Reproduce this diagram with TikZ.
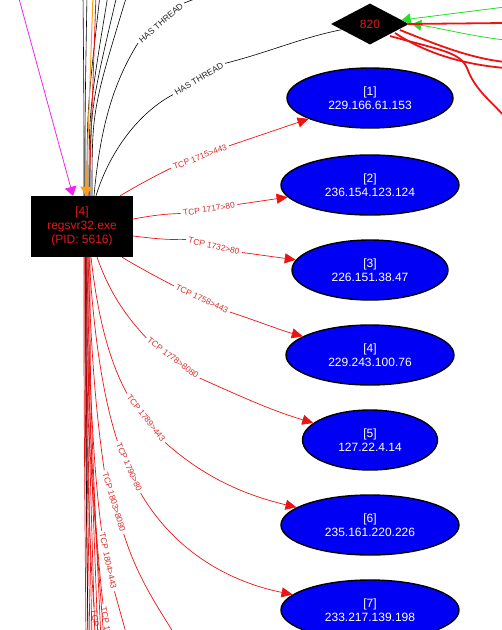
\documentclass[tikz,border=0pt]{standalone}
\usepackage{fontspec}
\setmainfont{Liberation Sans}
\usetikzlibrary{shapes.geometric,arrows.meta}
\definecolor{edgered}{RGB}{235,20,20}
\definecolor{lblred}{RGB}{215,45,45}
\definecolor{boxred}{RGB}{225,25,25}
\definecolor{ipblue}{RGB}{0,0,245}
\definecolor{mag}{RGB}{235,40,235}
\definecolor{orng}{RGB}{250,160,30}
\definecolor{grn}{RGB}{40,220,40}
\begin{document}
\begin{tikzpicture}[x=1pt,y=-1pt,
  ip/.style={ellipse, draw=black, line width=1.4pt, fill=ipblue, text=white, align=center, inner sep=0pt, minimum height=60pt, font=\fontsize{12}{13.5}\selectfont},
  lbl/.style={text=lblred, font=\fontsize{8.4}{9}\selectfont, inner sep=2.5pt},
  tlbl/.style={text=black!85, font=\fontsize{8.6}{9}\selectfont, inner sep=2.5pt},
  tcp/.style={draw=edgered, line width=0.7pt},
  tcparrow/.style={tcp, -{Triangle[length=11pt,width=10pt]}},
  thr/.style={draw=black, line width=0.6pt},
  big/.style={draw=edgered, line width=1.8pt},
  gline/.style={draw=grn, line width=0.8pt, -{Triangle[length=9pt,width=11pt]}}
]
\useasboundingbox (0,0) rectangle (502,630);
\clip (0,0) rectangle (502,630);

% main process node
\node[rectangle, fill=black, text=boxred, align=center, minimum width=102pt, minimum height=61pt, inner sep=0pt,
      font=\fontsize{12}{14}\selectfont] (p4) at (82,226.5) {[4]\\regsvr32.exe\\(PID: 5616)};

% diamond
\node[diamond, fill=black, text=boxred, minimum width=78pt, minimum height=41pt, inner sep=0pt, aspect=1.9,
      font=\fontsize{12}{14}\selectfont] (d820) at (370,24) {820};

% ip ellipses
\node[ip, minimum width=166pt] (e1) at (370,98) {[1]\\229.166.61.153};
\node[ip, minimum width=178pt] (e2) at (370,185) {[2]\\236.154.123.124};
\node[ip, minimum width=156pt] (e3) at (370,270) {[3]\\226.151.38.47};
\node[ip, minimum width=168pt] (e4) at (370,355) {[4]\\229.243.100.76};
\node[ip, minimum width=135pt] (e5) at (370,440) {[5]\\127.22.4.14};
\node[ip, minimum width=178pt] (e6) at (370,525) {[6]\\235.161.220.226};
\node[ip, minimum width=178pt] (e7) at (370,610) {[7]\\233.217.139.198};

% labels
\node[lbl, rotate=21] (l1) at (200,157) {TCP 1715>443};
\node[lbl, rotate=9] (l2) at (209,209) {TCP 1717>80};
\node[lbl, rotate=-13] (l3) at (214,246) {TCP 1732>80};
\node[lbl, rotate=-25] (l4) at (202,299) {TCP 1758>443};
\node[lbl, rotate=-37] (l5) at (173,358) {TCP 1778>8080};
\node[lbl, rotate=-52] (l6) at (146,418) {TCP 1789>443};
\node[lbl, rotate=-66] (l7) at (129,467) {TCP 1790>80};
\node[lbl, rotate=-73] (l8) at (114,502) {TCP 1803>8080};
\node[lbl, rotate=-78] (l9) at (108,561) {TCP 1804>443};
\node[lbl, rotate=-80, anchor=west] (l10) at (103,604) {TCP 180};
\node[lbl, rotate=-84, anchor=west] (l11) at (94,607) {TCP 1};

\node[tlbl, rotate=41] (h1) at (161,23) {HAS THREAD};
\node[tlbl, rotate=31] (h2) at (199,79) {HAS THREAD};

% free ends
\coordinate (f8) at (178,640);
\coordinate (f9) at (128,640);

% tcp edges
\draw[tcp] ([xshift=38pt]p4.north) .. controls (140,184) and (155,176) .. (l1.west);
\draw[tcparrow] (l1.east) -- (e1);
\draw[tcp] ([yshift=7.5pt]p4.east) .. controls (150,216) and (162,214) .. (l2.west);
\draw[tcparrow] (l2.east) -- (e2);
\draw[tcp] ([yshift=-9.5pt]p4.east) .. controls (150,238) and (165,240) .. (l3.west);
\draw[tcparrow] (l3.east) -- (e3);
\draw[tcp] ([xshift=40pt]p4.south) .. controls (140,268) and (155,276) .. (l4.west);
\draw[tcparrow] (l4.east) .. controls (260,322) and (280,330) .. (e4);
\draw[tcp] ([xshift=15pt]p4.south) .. controls (108,288) and (122,312) .. (l5.west);
\draw[tcparrow] (l5.east) .. controls (240,396) and (270,410) .. (e5);
\draw[tcp] ([xshift=9pt]p4.south) .. controls (98,320) and (110,362) .. (l6.west);
\draw[tcparrow] (l6.east) .. controls (205,478) and (245,495) .. (e6);
\draw[tcp] ([xshift=7pt]p4.south) .. controls (94,340) and (104,400) .. (l7.west);
\draw[tcparrow] (l7.east) .. controls (175,552) and (230,582) .. (e7);
\draw[tcp] ([xshift=6pt]p4.south) .. controls (91,360) and (97,420) .. (l8.west);
\draw[tcp] (l8.east) .. controls (138,580) and (160,610) .. (f8);
\draw[tcp] ([xshift=5pt]p4.south) .. controls (89,400) and (95,480) .. (l9.west);
\draw[tcp] (l9.east) -- (f9);
\draw[tcp] ([xshift=4pt]p4.south) .. controls (88,450) and (98,560) .. (l10.west);
\draw[tcp] ([xshift=3pt]p4.south) .. controls (86,450) and (90,560) .. (l11.west);

% bundle of edges going down
\foreach \s/\b in {2/86, 3/88, 4/90, 5/92, 6/95, 7/98, 8/101, 3.5/104} {
  \draw[tcp] ([xshift=\s pt]p4.south) .. controls ([xshift=\s pt]p4.south |- 0,400) .. (\b,640);
}
\draw[thr] ([xshift=4pt]p4.south) .. controls (86,450) .. (88,640);

% edges going up from the box
\foreach \s/\t in {2/83, 3/87, 5/100, 7/108, 8/117, 10/127} {
  \draw[thr] ([xshift=\s pt]p4.north) .. controls ([xshift=\s pt]p4.north |- 0,110) .. (\t,-5);
}
\draw[thr] ([xshift=12pt]p4.north) .. controls (100,130) and (112,85) .. (h1.west);
\draw[thr] (h1.east) -- (205,-5);
\draw[thr] ([xshift=14pt]p4.north) .. controls (110,150) and (140,112) .. (h2.west);
\draw[thr] (h2.east) .. controls (270,52) and (300,38) .. (d820);
\draw[edgered, line width=0.8pt] (96,-5) -- ([xshift=7pt]p4.north);
\draw[orng, line width=1pt, -{Triangle[length=9pt,width=12pt]}] (93,-5) -- ([xshift=4pt]p4.north);
\draw[mag, line width=0.8pt, -{Triangle[length=9pt,width=12pt]}] (18,-5) -- ([xshift=-9pt]p4.north);

% diamond connections
\draw[gline] (505,7) -- (d820);
\draw[gline] (505,40) .. controls (470,36) and (440,28) .. ([xshift=3pt]d820.east);
\draw[grn, line width=0.8pt] (495,-5) -- (505,2);
\draw[big] ([xshift=-2pt]d820.east) -- (505,23);
\draw[big] (400,30) .. controls (440,46) and (470,58) .. (505,62);
\draw[big] (395,33) .. controls (430,56) and (470,65) .. (505,68);
\draw[big] (390,36) .. controls (440,50) and (460,52) .. (467,68) .. controls (475,90) and (490,100) .. (505,117);
\end{tikzpicture}
\end{document}
